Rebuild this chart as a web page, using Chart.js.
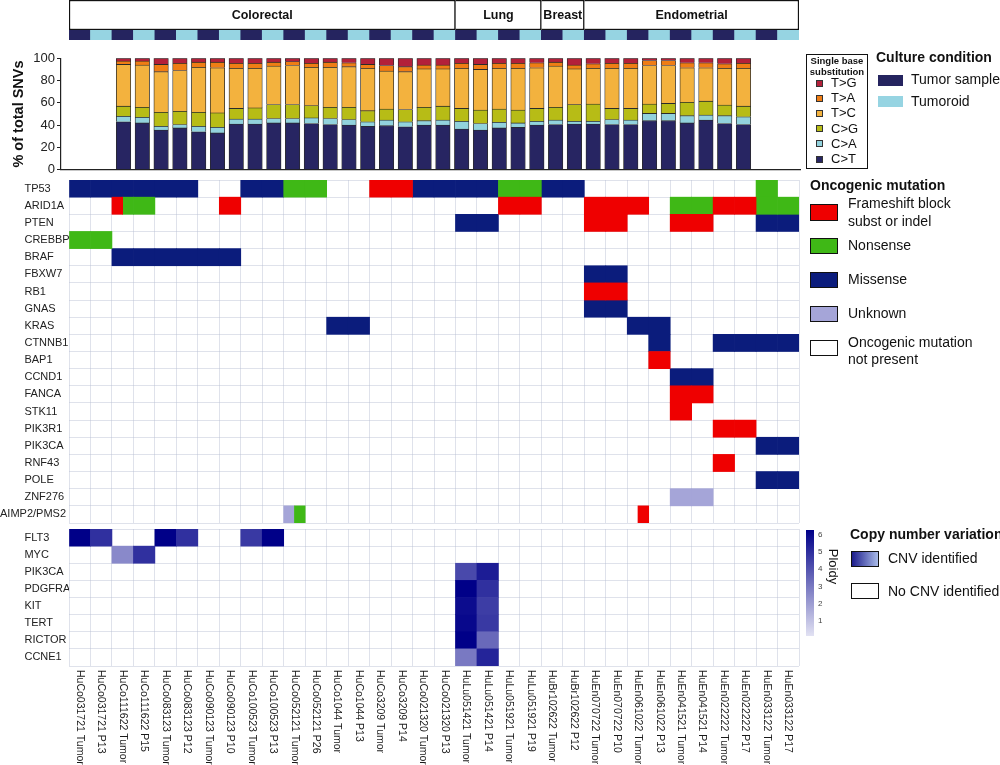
<!DOCTYPE html>
<html>
<head>
<meta charset="utf-8">
<script src="https://cdn.jsdelivr.net/npm/chart.js@4.4.1/dist/chart.umd.min.js"></script>
<style>
body{margin:0;background:#fff;font-family:"Liberation Sans",Arial,sans-serif;color:#111;}
#wrap{position:relative;width:1000px;height:765px;overflow:hidden;}
canvas{position:absolute;left:0;}
.t{position:absolute;white-space:nowrap;font-size:14px;line-height:17px;color:#111;}
.b{font-weight:bold;}
.sw{position:absolute;box-sizing:border-box;}
.bx{border:1.5px solid #111;}
</style>
</head>
<body>
<div id="wrap">
<canvas id="cGroup" width="1000" height="30" style="top:0"></canvas>
<canvas id="cCond" width="1000" height="10" style="top:30px"></canvas>
<canvas id="cSnv" width="1000" height="140" style="top:44px"></canvas>
<canvas id="cMut" width="1000" height="363" style="top:170px"></canvas>
<canvas id="cCnv" width="1000" height="246" style="top:519px"></canvas>
<div id="legend"></div>
</div>

<script>
/* ================= DATA ================= */

const samples=[
"HuCo031721 Tumor","HuCo031721 P13","HuCo111622 Tumor","HuCo111622 P15",
"HuCo083123 Tumor","HuCo083123 P12","HuCo090123 Tumor","HuCo090123 P10",
"HuCo100523 Tumor","HuCo100523 P13","HuCo052121 Tumor","HuCo052121 P26",
"HuCo1044 Tumor","HuCo1044 P13","HuCo3209 Tumor","HuCo3209 P14",
"HuCo021320 Tumor","HuCo021320 P13","HuLu051421 Tumor","HuLu051421 P14",
"HuLu051921 Tumor","HuLu051921 P19","HuBr102622 Tumor","HuBr102622 P12",
"HuEn070722 Tumor","HuEn070722 P10","HuEn061022 Tumor","HuEn061022 P13",
"HuEn041521 Tumor","HuEn041521 P14","HuEn022222 Tumor","HuEn022222 P17",
"HuEn033122 Tumor","HuEn033122 P17"
];

const groups=["Colorectal","Lung","Breast","Endometrial"];
const groupSizes=[18,4,2,10];

const conditions=samples.map(s=>s.endsWith("Tumor")?"Tumor sample":"Tumoroid");

/* single base substitutions, % of total SNVs (bottom to top) */
const snvTypes=["C>T","C>A","C>G","T>C","T>A","T>G"];
const snvCT=[43,42,35.5,37.5,34,33,41,41,42,42,41.5,40.5,40,39,39.5,38.5,40,40,36.5,35.5,37.5,38,40,40.5,41,41,40.5,40.5,44,44,42,44.5,41.5,40.5];
const snvCA=[5,5,3.5,3,5,5,4.5,4.5,4,4,5,5.5,5,4,5,4.5,4,4.5,7,6,5,4,3.5,4,2.5,2.5,4.5,4,6.5,6.5,6.5,4.5,7,7];
const snvCG=[9,9,12.5,12,12.5,13,9.5,10,12.5,12.5,11,10,11,10,10,11,12,12.5,11.5,12,12,11.5,11.5,11.5,15,15.5,10,10.5,8.5,9,12,12.5,9.5,9.5];
const snvTC=[37.5,38,36.5,36.5,40.5,40.5,36,35.5,34.5,35,34.5,36,36.5,38,34,34,34.5,33.5,36,36.5,36.5,37.5,36.5,37,32,32,36,36,34.5,34,31,30,33,34];
const snvTA=[3,3.5,6.5,6.5,4.5,5,4.5,4.5,3.5,3.5,3.5,4.5,3.5,3.5,5,4.5,3.5,3.5,4.5,4.5,4.5,4.5,4.5,3.5,3.5,4,4.5,4.5,4.5,4.5,4.5,4.5,4,4.5];
const snvTG=[2.5,2.5,5.5,4.5,3.5,3.5,4.5,4.5,3.5,3,4.5,3.5,4,5.5,6.5,7.5,6,6,4.5,5.5,4.5,4.5,4,3.5,6,5,4.5,4.5,2,2,4,4,5,4.5];

/* oncogenic mutations: [gene, sample index, half] (half "L"/"R" = split cell) */
const mutGenes=["TP53","ARID1A","PTEN","CREBBP","BRAF","FBXW7","RB1","GNAS","KRAS","CTNNB1",
"BAP1","CCND1","FANCA","STK11","PIK3R1","PIK3CA","RNF43","POLE","ZNF276","AIMP2/PMS2"];

const frameshift=[
["TP53",14],["TP53",15],
["ARID1A",2,"L"],["ARID1A",7],["ARID1A",20],["ARID1A",21],["ARID1A",24],["ARID1A",25],["ARID1A",26],["ARID1A",30],["ARID1A",31],
["PTEN",24],["PTEN",25],["PTEN",28],["PTEN",29],
["RB1",24],["RB1",25],["BAP1",27],["FANCA",28],["FANCA",29],["STK11",28],
["PIK3R1",30],["PIK3R1",31],["RNF43",30],["AIMP2/PMS2",26,"R"]
];
const nonsense=[
["TP53",10],["TP53",11],["TP53",20],["TP53",21],["TP53",32],
["ARID1A",2,"R"],["ARID1A",3],["ARID1A",28],["ARID1A",29],["ARID1A",32],["ARID1A",33],
["CREBBP",0],["CREBBP",1],["AIMP2/PMS2",10,"R"]
];
const missense=[
["TP53",0],["TP53",1],["TP53",2],["TP53",3],["TP53",4],["TP53",5],["TP53",8],["TP53",9],
["TP53",16],["TP53",17],["TP53",18],["TP53",19],["TP53",22],["TP53",23],
["PTEN",18],["PTEN",19],["PTEN",32],["PTEN",33],
["BRAF",2],["BRAF",3],["BRAF",4],["BRAF",5],["BRAF",6],["BRAF",7],
["FBXW7",24],["FBXW7",25],["GNAS",24],["GNAS",25],
["KRAS",12],["KRAS",13],["KRAS",26],["KRAS",27],
["CTNNB1",27],["CTNNB1",30],["CTNNB1",31],["CTNNB1",32],["CTNNB1",33],
["CCND1",28],["CCND1",29],["PIK3CA",32],["PIK3CA",33],["POLE",32],["POLE",33]
];
const unknown=[["ZNF276",28],["ZNF276",29],["AIMP2/PMS2",10,"L"]];

/* copy number variation: [gene, sample index, ploidy] */
const cnvGenes=["FLT3","MYC","PIK3CA","PDGFRA","KIT","TERT","RICTOR","CCNE1"];
const cnvCells=[
["FLT3",0,6],["FLT3",1,4.8],["FLT3",4,6],["FLT3",5,4.8],["FLT3",8,4.6],["FLT3",9,6],
["MYC",2,2.6],["MYC",3,4.8],
["PIK3CA",18,4.2],["PIK3CA",19,5.3],["PDGFRA",18,6],["PDGFRA",19,4.8],
["KIT",18,5.7],["KIT",19,4.5],["TERT",18,5.8],["TERT",19,4.6],
["RICTOR",18,6],["RICTOR",19,3.4],["CCNE1",18,3],["CCNE1",19,5.1]
];
const ploidyTicks=[1,2,3,4,5,6];

/* ================= STYLE ================= */

const FONT='"Liberation Sans", Arial, sans-serif';
const NAVY="#25245f", LBLUE="#96d4e2";
const snvColors=["#272562","#92d2dd","#b7bc16","#f3b23e","#ef7d14","#b3203a"];
const mutColors={frameshift:"#ef0000",nonsense:"#3fb816",missense:"#0b1c7c",unknown:"#a5a5d8"};
const GRID="rgba(185,190,210,0.45)";
const LONG="AIMP2/PMS2";
const INDENT="        "; // left inset of the short gene names

Chart.defaults.font.family=FONT;
Chart.defaults.color="#1a1a1a";
Chart.defaults.animation=false;
Chart.defaults.plugins.legend.display=false;
Chart.defaults.plugins.tooltip.enabled=false;

function ploidyColor(v){
let t=Math.max(0,Math.min(1,(v-0.5)/5.5));
let c=[222,222,242].map((a,i)=>Math.round(a+([0,0,136][i]-a)*t));
return "rgb("+c.join(",")+")";
}

function cell(c){
let s=c[1],e=c[1]+1;
if(c[2]==="L") e=s+0.5;
if(c[2]==="R") s=s+0.5;
return {y:c[0],x:[s,e]};
}

/* ================= HEADER ================= */

const boxText={
id:"boxText",
afterDatasetsDraw(chart){
const ctx=chart.ctx;
ctx.save();
ctx.font="bold 12.5px "+FONT;
ctx.fillStyle="#111";
ctx.textAlign="center";
ctx.textBaseline="middle";
chart.data.datasets.forEach((ds,i)=>{
let p=chart.getDatasetMeta(i).data[0].getCenterPoint();
ctx.fillText(ds.label,p.x,p.y+1);
});
ctx.restore();
}
};

new Chart(document.getElementById("cGroup"),{
type:"bar",
data:{labels:["g"],datasets:groups.map((g,i)=>({
label:g,data:[groupSizes[i]],backgroundColor:"#fff",borderColor:"#111",borderWidth:1.5,
borderSkipped:i===0?false:"left",barPercentage:1,categoryPercentage:1
}))},
options:{responsive:false,indexAxis:"y",layout:{padding:{left:69,right:201,top:0,bottom:0}},
scales:{x:{stacked:true,min:0,max:34,display:false},y:{stacked:true,display:false}}},
plugins:[boxText]
});

new Chart(document.getElementById("cCond"),{
type:"bar",
data:{labels:["c"],datasets:[{
data:samples.map((s,i)=>({y:"c",x:[i,i+1]})),
backgroundColor:conditions.map(c=>c==="Tumor sample"?NAVY:LBLUE),
borderWidth:0,barPercentage:1,categoryPercentage:1,grouped:false
}]},
options:{responsive:false,indexAxis:"y",layout:{padding:{left:69,right:201,top:0,bottom:0}},
scales:{x:{min:0,max:34,display:false},y:{display:false}}}
});

/* ================= SNV BARS ================= */

const snvData=[snvCT,snvCA,snvCG,snvTC,snvTA,snvTG];

new Chart(document.getElementById("cSnv"),{
type:"bar",
data:{datasets:snvTypes.map((t,k)=>({
label:t,
data:snvData[k].map((v,i)=>({x:i+0.5,y:v})),
backgroundColor:snvColors[k],borderColor:"#2a2a2a",borderWidth:0.8,borderSkipped:"start",
barThickness:14.5
}))},
options:{responsive:false,layout:{padding:{left:0,right:200,top:14.3,bottom:14.3}},
scales:{
x:{type:"linear",min:-0.37,max:34.05,stacked:true,ticks:{display:false},
grid:{drawOnChartArea:false,drawTicks:false},border:{color:"#222",width:1.2}},
y:{min:0,max:100,stacked:true,
ticks:{stepSize:20,font:{size:13},padding:2,color:"#222"},
grid:{drawOnChartArea:false,tickLength:4,color:"#222"},
border:{color:"#222",width:1.2},
title:{display:true,text:"% of total SNVs",font:{size:14.5,weight:"bold"},padding:{top:10,bottom:0},color:"#111"},
afterFit(s){s.width=61;}}
}}
});

/* ================= HEATMAPS ================= */

function heatScales(genes){
return {
x:{type:"linear",min:0,max:34,z:1,ticks:{display:false,stepSize:1},
grid:{color:GRID,drawTicks:false},border:{display:false}},
y:{type:"category",labels:genes,offset:true,z:1,
grid:{offset:true,color:GRID,drawTicks:false},border:{display:false},
ticks:{autoSkip:false,crossAlign:"far",padding:0,font:{size:11},color:"#222",
callback(v){let l=this.getLabelForValue(v);return l===LONG?l:INDENT+l;}},
afterFit(s){s.width=69;}}
};
}

new Chart(document.getElementById("cMut"),{
type:"bar",
data:{datasets:[
["Frameshift block subst or indel",frameshift,mutColors.frameshift],
["Nonsense",nonsense,mutColors.nonsense],
["Missense",missense,mutColors.missense],
["Unknown",unknown,mutColors.unknown]
].map(d=>({label:d[0],data:d[1].map(cell),backgroundColor:d[2],borderWidth:0,
barPercentage:1,categoryPercentage:1,grouped:false}))},
options:{responsive:false,indexAxis:"y",
layout:{padding:{left:0,right:201,top:10,bottom:10}},
scales:heatScales(mutGenes)}
});

const sampleLabels={
id:"sampleLabels",
afterDraw(chart){
const sc=chart.scales.xs, ctx=chart.ctx;
ctx.save();
ctx.font="10.5px "+FONT;
ctx.fillStyle="#1a1a1a";
ctx.textAlign="left";
ctx.textBaseline="middle";
sc.ticks.forEach((t,i)=>{
ctx.save();
ctx.translate(sc.getPixelForTick(i),chart.chartArea.bottom+4);
ctx.rotate(Math.PI/2);
ctx.fillText(sc.getLabelForValue(t.value),0,0);
ctx.restore();
});
ctx.restore();
}
};

const cnvScales=heatScales(cnvGenes);
cnvScales.xs={type:"category",labels:samples,offset:true,position:"bottom",
ticks:{display:false,autoSkip:false},grid:{display:false,drawTicks:false},border:{display:false}};

new Chart(document.getElementById("cCnv"),{
type:"bar",
data:{datasets:[{label:"CNV",data:cnvCells.map(c=>cell([c[0],c[1]])),
backgroundColor:cnvCells.map(c=>ploidyColor(c[2])),borderWidth:0,
barPercentage:1,categoryPercentage:1,grouped:false}]},
options:{responsive:false,indexAxis:"y",
layout:{padding:{left:0,right:201,top:10,bottom:99}},
scales:cnvScales},
plugins:[sampleLabels]
});

/* ================= LEGENDS ================= */

let lg="";
/* single base substitution box */
lg+=`<div class="sw bx" style="left:806px;top:54px;width:62px;height:115px"></div>
<div class="t b" style="left:806px;top:56px;width:62px;text-align:center;font-size:9.5px;line-height:10.5px">Single base<br>substitution</div>`;
snvTypes.slice().reverse().forEach((t,i)=>{
let c=snvColors[snvTypes.length-1-i];
let y=83+i*15.2;
lg+=`<div class="sw" style="left:816px;top:${y-3.5}px;width:7px;height:7px;background:${c};border:0.8px solid #333"></div>
<div class="t" style="left:831px;top:${y-8}px;font-size:13px;line-height:16px">${t.replace(">","&gt;")}</div>`;
});
/* culture condition */
lg+=`<div class="t b" style="left:876px;top:49px">Culture condition</div>
<div class="sw" style="left:878px;top:75px;width:25px;height:11px;background:${NAVY}"></div>
<div class="t" style="left:911px;top:71px">Tumor sample</div>
<div class="sw" style="left:878px;top:96px;width:25px;height:11px;background:${LBLUE}"></div>
<div class="t" style="left:911px;top:93px">Tumoroid</div>`;
/* oncogenic mutation */
lg+=`<div class="t b" style="left:810px;top:177px">Oncogenic mutation</div>
<div class="sw bx" style="left:810px;top:204px;width:28px;height:17px;background:${mutColors.frameshift}"></div>
<div class="t" style="left:848px;top:194px;line-height:18px">Frameshift block<br>subst or indel</div>
<div class="sw bx" style="left:810px;top:238px;width:28px;height:16px;background:${mutColors.nonsense}"></div>
<div class="t" style="left:848px;top:237px">Nonsense</div>
<div class="sw bx" style="left:810px;top:272px;width:28px;height:16px;background:${mutColors.missense}"></div>
<div class="t" style="left:848px;top:271px">Missense</div>
<div class="sw bx" style="left:810px;top:306px;width:28px;height:16px;background:${mutColors.unknown}"></div>
<div class="t" style="left:848px;top:305px">Unknown</div>
<div class="sw bx" style="left:810px;top:340px;width:28px;height:16px;background:#fff"></div>
<div class="t" style="left:848px;top:334px">Oncogenic mutation<br>not present</div>`;
/* copy number variation */
lg+=`<div class="sw" style="left:806px;top:530px;width:8px;height:106px;background:linear-gradient(to top,#e2e2f3,#000088)"></div>`;
ploidyTicks.forEach(v=>{
lg+=`<div class="t" style="left:818px;top:${535+(6-v)*17.2-5}px;font-size:8px;line-height:10px;color:#444">${v}</div>`;
});
lg+=`<div class="t" style="left:814px;top:558px;width:38px;text-align:center;font-size:13px;transform:rotate(90deg)">Ploidy</div>
<div class="t b" style="left:850px;top:526px">Copy number variation</div>
<div class="sw bx" style="left:851px;top:551px;width:28px;height:16px;background:linear-gradient(to right,#1c1c8c,#a9bbe8)"></div>
<div class="t" style="left:888px;top:550px">CNV identified</div>
<div class="sw bx" style="left:851px;top:583px;width:28px;height:16px;background:#fff"></div>
<div class="t" style="left:888px;top:583px">No CNV identified</div>`;
document.getElementById("legend").innerHTML=lg;
</script>
</body>
</html>
